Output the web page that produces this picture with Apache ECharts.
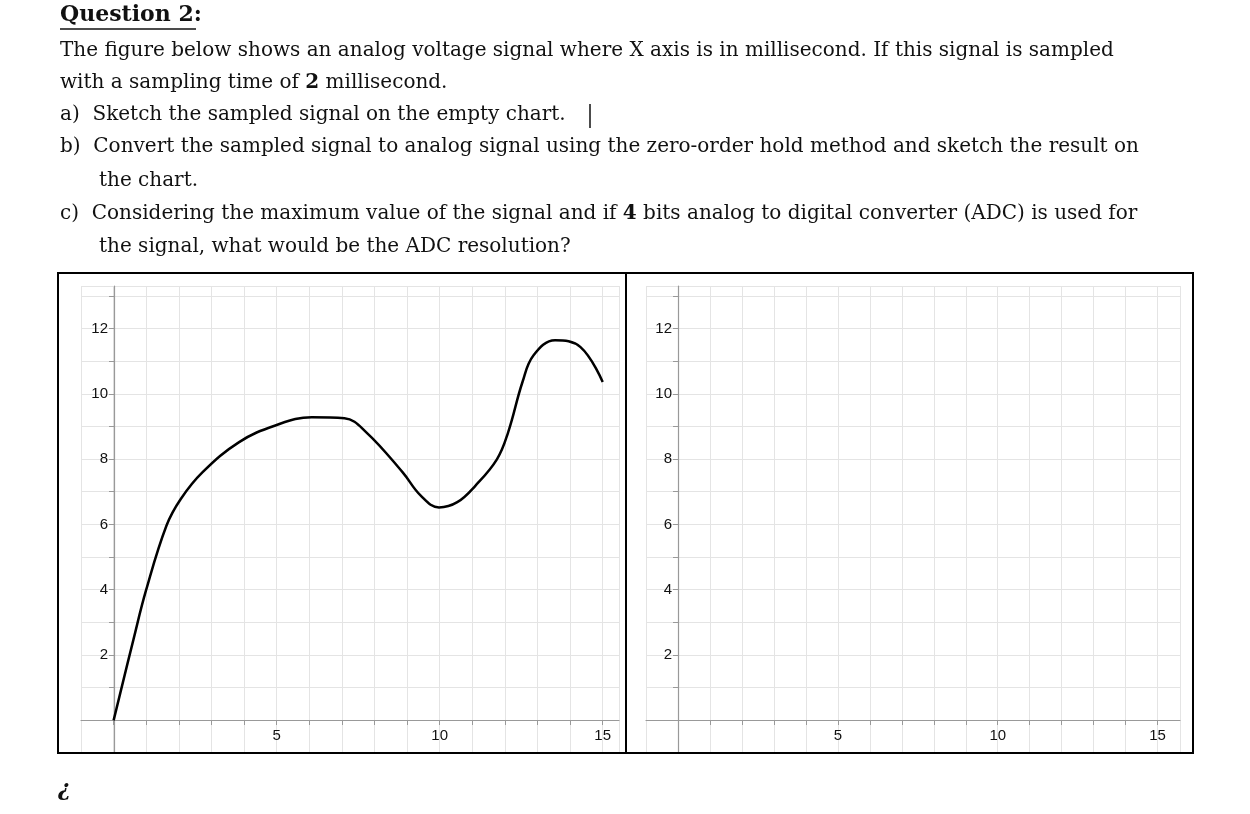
<!DOCTYPE html>
<html><head><meta charset="utf-8">
<script src="https://cdn.jsdelivr.net/npm/echarts@6/dist/echarts.min.js"></script>
<style>html,body{margin:0;padding:0;background:#fff}#c{width:1250px;height:814px}</style>
</head><body><div id="c"></div>
<script>
const signalX = [0,0.61,1.0,1.62,2.06,2.73,3.85,4.96,6.08,7.08,7.75,8.86,9.42,9.98,10.54,11.1,11.76,12.1,12.54,12.88,13.54,14.32,15.0];
const signalY = [0,2.48,4.0,5.96,6.78,7.6,8.52,9.03,9.28,9.25,8.82,7.6,6.88,6.52,6.68,7.19,8.0,8.82,10.36,11.18,11.64,11.43,10.36];
const xTickLabels = [5,10,15];
const yTickLabels = [2,4,6,8,10,12];
const textLines = [
 "The figure below shows an analog voltage signal where X axis is in millisecond. If this signal is sampled"
];

const serif = '"DejaVu Serif","Liberation Serif",serif';
const FS = 20;
function xAx(i,max,off){return {type:'value',gridIndex:i,min:-1,max:max,interval:1,offset:off,
  axisLine:{onZero:false,lineStyle:{color:'#999',width:1.2}},
  axisTick:{show:true,length:5,lineStyle:{color:'#999'}},
  axisLabel:{color:'#111',fontSize:15,fontFamily:'Liberation Sans',margin:8,showMinLabel:false,showMaxLabel:false,
    formatter:v=>xTickLabels.includes(v)?String(v):''},
  splitLine:{show:true,lineStyle:{color:'#e4e4e4',width:1}}};}
function yAx(i,off){return {type:'value',gridIndex:i,min:-1,max:13.3,interval:1,offset:off,
  axisLine:{onZero:false,lineStyle:{color:'#999',width:1.2}},
  axisTick:{show:true,length:5,lineStyle:{color:'#999'}},
  axisLabel:{color:'#111',fontSize:15,fontFamily:'Liberation Sans',margin:6,showMaxLabel:false,
    formatter:v=>yTickLabels.includes(v)?String(v):''},
  splitLine:{show:true,lineStyle:{color:'#e4e4e4',width:1}}};}

function txt(x,y,s,opt){return {type:'text',left:x,top:y,style:Object.assign({text:s,fontFamily:serif,fontSize:FS,fill:'#111'},opt||{})};}
const rich = {n:{fontFamily:serif,fontSize:FS,fill:'#111'},b:{fontFamily:serif,fontSize:FS,fill:'#111',fontWeight:'bold'}};

const chart = echarts.init(document.getElementById('c'));
chart.setOption({
  animation:false,
  grid:[{left:81,top:286,width:538,height:467},{left:646,top:286,width:534,height:467}],
  xAxis:[xAx(0,15.5,-33),xAx(1,15.7,-33)],
  yAxis:[yAx(0,-33),yAx(1,-32)],
  series:[{type:'line',xAxisIndex:0,yAxisIndex:0,smooth:0.4,symbol:'none',
    data:signalX.map((x,i)=>[x,signalY[i]]),lineStyle:{color:'#000',width:2.5}}],
  graphic:[
    {type:'rect',shape:{x:58,y:273,width:568,height:480},style:{fill:'none',stroke:'#000',lineWidth:2},z:100},
    {type:'rect',shape:{x:626,y:273,width:567,height:480},style:{fill:'none',stroke:'#000',lineWidth:2},z:100},
    txt(60,4,'Question 2:',{fontWeight:'bold',fontSize:22}),
    {type:'line',shape:{x1:60,y1:29,x2:196,y2:29},style:{stroke:'#111',lineWidth:1.5}},
    txt(60,41,textLines[0]),
    {type:'text',left:60,top:73,style:{rich:rich,text:'{n|with a sampling time of }{b|2}{n| millisecond.}'}},
    txt(60,105,'a)  Sketch the sampled signal on the empty chart.'),
    {type:'line',shape:{x1:590,y1:104,x2:590,y2:128},style:{stroke:'#111',lineWidth:1.5}},
    txt(60,137,'b)  Convert the sampled signal to analog signal using the zero-order hold method and sketch the result on'),
    txt(99,171,'the chart.'),
    {type:'text',left:60,top:204,style:{rich:rich,text:'{n|c)  Considering the maximum value of the signal and if }{b|4}{n| bits analog to digital converter (ADC) is used for}'}},
    txt(99,237,'the signal, what would be the ADC resolution?'),
    txt(58,778,'¿',{fontSize:22,fontStyle:'italic',fontWeight:'bold'})
  ]
});
</script></body></html>
